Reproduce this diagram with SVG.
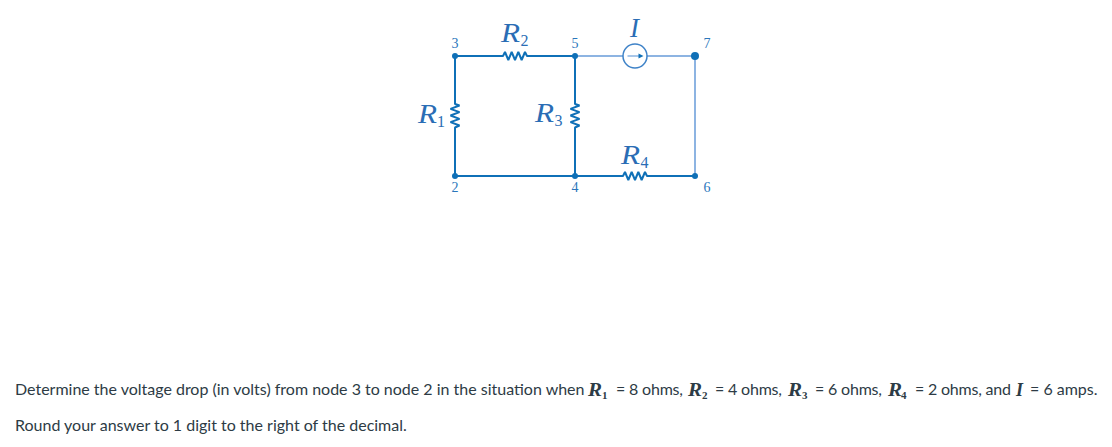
<svg xmlns="http://www.w3.org/2000/svg" width="1112" height="447" viewBox="0 0 1112 447">
<style>
.w{fill:none;stroke:#0f70b7;stroke-width:2}
.l{fill:none;stroke:#8db4e2;stroke-width:2}
.d{fill:#0f70b7}
.n{font:14px "Liberation Serif",serif;fill:#2a76bb;text-anchor:middle}
.m{font:italic 27px "Liberation Serif",serif;fill:#2a6db5}
.s{font:16px "Liberation Serif",serif;fill:#2a6db5}
.t{font:16px Lato,sans-serif;fill:#2d3b45}
.v{font:italic bold 18px "Liberation Serif",serif;fill:#2d3b45}
.u{font:bold 11px "Liberation Serif",serif;fill:#2d3b45}
</style>
<rect width="1112" height="447" fill="#fff"/>
<g id="connectors">
<path class="l" d="M575 56H623M647 56H695V176"/>
<path class="w" stroke-linejoin="bevel" d="M455 56H503l2 -4 3.330 8 3.330 -8 3.330 8 3.330 -8 3.330 8 3.330 -8 2 4H575V104l4.500 1.500 -9 3.330 9 3.330 -9 3.330 9 3.330 -9 3.330 9 3.330 -4.500 2V176"/>
<path class="w" stroke-linejoin="bevel" d="M455 56V104l4.500 1.500 -9 3.330 9 3.330 -9 3.330 9 3.330 -9 3.330 9 3.330 -4.500 2V176H623l2 -4 3.330 8 3.330 -8 3.330 8 3.330 -8 3.330 8 3.330 -8 2 4H695"/>
</g>
<g id="source-I">
<circle cx="635" cy="56" r="12" fill="#fff" stroke="#3f83c8" stroke-width="1.500"/>
<path d="M627.500 56H640" stroke="#8db4e2" stroke-width="1.500"/><path d="M643.500 56l-5 -2.500v5z" fill="#0f70b7"/>
<text class="m" x="630" y="37">I</text>
</g>
<g id="node-3"><circle class="d" cx="455" cy="56" r="3"/><text class="n" x="455" y="48">3</text></g>
<g id="node-5"><circle class="d" cx="575" cy="56" r="3"/><text class="n" x="575" y="48">5</text></g>
<g id="node-7"><circle class="d" cx="695" cy="56" r="4"/><text class="n" x="707" y="48">7</text></g>
<g id="node-2"><circle class="d" cx="455" cy="176" r="3"/><text class="n" x="455" y="192">2</text></g>
<g id="node-4"><circle class="d" cx="575" cy="176" r="3"/><text class="n" x="575" y="192">4</text></g>
<g id="node-6"><circle class="d" cx="695" cy="176" r="3"/><text class="n" x="707" y="192">6</text></g>
<g id="R1"><text class="m" x="418" y="123" textLength="19" lengthAdjust="spacingAndGlyphs">R</text><text class="s" x="437" y="127">1</text></g>
<g id="R2"><text class="m" x="501" y="42" textLength="19" lengthAdjust="spacingAndGlyphs">R</text><text class="s" x="520.500" y="46">2</text></g>
<g id="R3"><text class="m" x="535" y="122" textLength="19" lengthAdjust="spacingAndGlyphs">R</text><text class="s" x="554.500" y="126">3</text></g>
<g id="R4"><text class="m" x="621" y="164" textLength="19" lengthAdjust="spacingAndGlyphs">R</text><text class="s" x="640.500" y="168">4</text></g>
<g id="question">
<text class="t" x="15" y="394.500" textLength="569.500">Determine the voltage drop (in volts) from node 3 to node 2 in the situation when</text>
<text class="v" x="588" y="396" textLength="14" lengthAdjust="spacingAndGlyphs">R</text><text class="u" x="602" y="399">1</text>
<text class="t" x="616" y="394.500" textLength="67">= 8 ohms,</text>
<text class="v" x="688" y="396" textLength="14" lengthAdjust="spacingAndGlyphs">R</text><text class="u" x="702" y="399">2</text>
<text class="t" x="715" y="394.500" textLength="67">= 4 ohms,</text>
<text class="v" x="788" y="396" textLength="14" lengthAdjust="spacingAndGlyphs">R</text><text class="u" x="802" y="399">3</text>
<text class="t" x="815" y="394.500" textLength="67">= 6 ohms,</text>
<text class="v" x="888" y="396" textLength="14" lengthAdjust="spacingAndGlyphs">R</text><text class="u" x="901" y="399">4</text>
<text class="t" x="915" y="394.500" textLength="96">= 2 ohms, and</text>
<text class="v" x="1016" y="396">I</text>
<text class="t" x="1030" y="394.500">= 6 amps.</text>
<text class="t" x="15" y="430.500">Round your answer to 1 digit to the right of the decimal.</text>
</g>
</svg>
